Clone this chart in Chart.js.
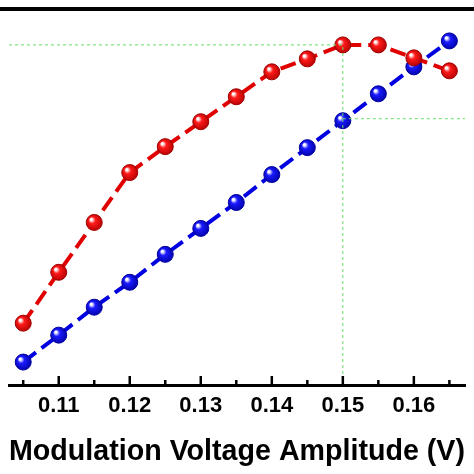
<!DOCTYPE html>
<html>
<head>
<meta charset="utf-8">
<script src="https://cdn.jsdelivr.net/npm/chart.js@4/dist/chart.umd.min.js"></script>
<style>
  html, body { margin: 0; padding: 0; background: #fff; }
  #wrap { width: 474px; height: 474px; }
</style>
</head>
<body>
<div id="wrap"><canvas id="chart"></canvas></div>
<script>
// Dados
const voltages = [0.105, 0.11, 0.115, 0.12, 0.125, 0.13, 0.135, 0.14, 0.145, 0.15, 0.155, 0.16, 0.165];
const redValues = [62, 113, 163, 213, 239, 264, 289, 314, 327, 341, 341, 328, 315];
const blueValues = [23, 50, 78, 103, 131, 157, 183, 211, 238, 265, 292, 319, 345];
const tickValues = [0.11, 0.12, 0.13, 0.14, 0.15, 0.16];
const minorValues = [0.105, 0.115, 0.125, 0.135, 0.145, 0.155, 0.165];
const guideA = [[0.103, 341], [0.15, 341], [0.15, 0]];
const guideB = [[0.15, 267], [0.1672, 267]];

const toPts = (xs, ys) => xs.map((x, i) => ({ x: x, y: ys[i] }));
const pairs = arr => arr.map(p => ({ x: p[0], y: p[1] }));

function sphere(base, dark) {
    return function (ctx) {
        const el = ctx.element;
        const c = ctx.chart.ctx;
        if (!el || el.x == null) return base;
        const g = c.createRadialGradient(el.x - 3, el.y - 3, 1, el.x, el.y, 9);
        g.addColorStop(0, '#ffffff');
        g.addColorStop(0.3, base);
        g.addColorStop(1, dark);
        return g;
    };
}

// ticks internos e borda superior
const framePlugin = {
    id: 'frame',
    afterDraw(chart) {
        const c = chart.ctx, a = chart.chartArea, xs = chart.scales.x;
        c.save();
        c.strokeStyle = '#000';
        c.lineWidth = 4;
        c.beginPath(); c.moveTo(0, a.top); c.lineTo(474, a.top); c.stroke();
        c.lineWidth = 2.5;
        tickValues.forEach(v => {
            const px = xs.getPixelForValue(v);
            c.beginPath(); c.moveTo(px, a.bottom); c.lineTo(px, a.bottom - 9); c.stroke();
        });
        minorValues.forEach(v => {
            const px = xs.getPixelForValue(v);
            c.beginPath(); c.moveTo(px, a.bottom); c.lineTo(px, a.bottom - 5); c.stroke();
        });
        c.restore();
    }
};

const guideStyle = {
    borderColor: '#66dd66', borderWidth: 1, borderDash: [3, 3],
    pointRadius: 0, fill: false, showLine: true
};

const config = {
    type: 'scatter',
    data: {
        datasets: [
            Object.assign({ data: pairs(guideA) }, guideStyle),
            Object.assign({ data: pairs(guideB) }, guideStyle),
            {
                data: toPts(voltages, redValues), showLine: true,
                borderColor: '#e00000', borderWidth: 4, borderDash: [16, 7],
                pointRadius: 8, pointBorderWidth: 1, pointBorderColor: '#a00000',
                pointBackgroundColor: sphere('#ff1a1a', '#b00000')
            },
            {
                data: toPts(voltages, blueValues), showLine: true,
                borderColor: '#0000e0', borderWidth: 4, borderDash: [16, 7],
                pointRadius: 8, pointBorderWidth: 1, pointBorderColor: '#0000a0',
                pointBackgroundColor: sphere('#1a1aff', '#0000a0')
            }
        ]
    },
    options: {
        animation: false,
        responsive: true,
        maintainAspectRatio: false,
        layout: { padding: { top: 8, left: -8, right: -8, bottom: 0 } },
        plugins: { legend: { display: false }, tooltip: { enabled: false } },
        scales: {
            x: {
                type: 'linear', min: 0.103, max: 0.1672,
                grid: { display: false, drawTicks: false },
                border: { display: true, width: 3, color: '#000' },
                afterBuildTicks: s => { s.ticks = tickValues.map(v => ({ value: v })); },
                afterFit: s => { s.height = 89; },
                ticks: {
                    padding: 8, color: '#000',
                    font: { family: 'Liberation Sans', size: 22, weight: 'bold' },
                    callback: v => v.toFixed(2)
                },
                title: {
                    display: true, text: 'Modulation Voltage Amplitude (V)', color: '#000',
                    font: { family: 'Liberation Sans', size: 30, weight: 'bold' },
                    padding: { top: 0 }
                }
            },
            y: { display: false, min: 0, max: 377 }
        }
    },
    plugins: [framePlugin]
};

// Inicialização
const myChart = new Chart(document.getElementById('chart').getContext('2d'), config);
</script>
</body>
</html>
